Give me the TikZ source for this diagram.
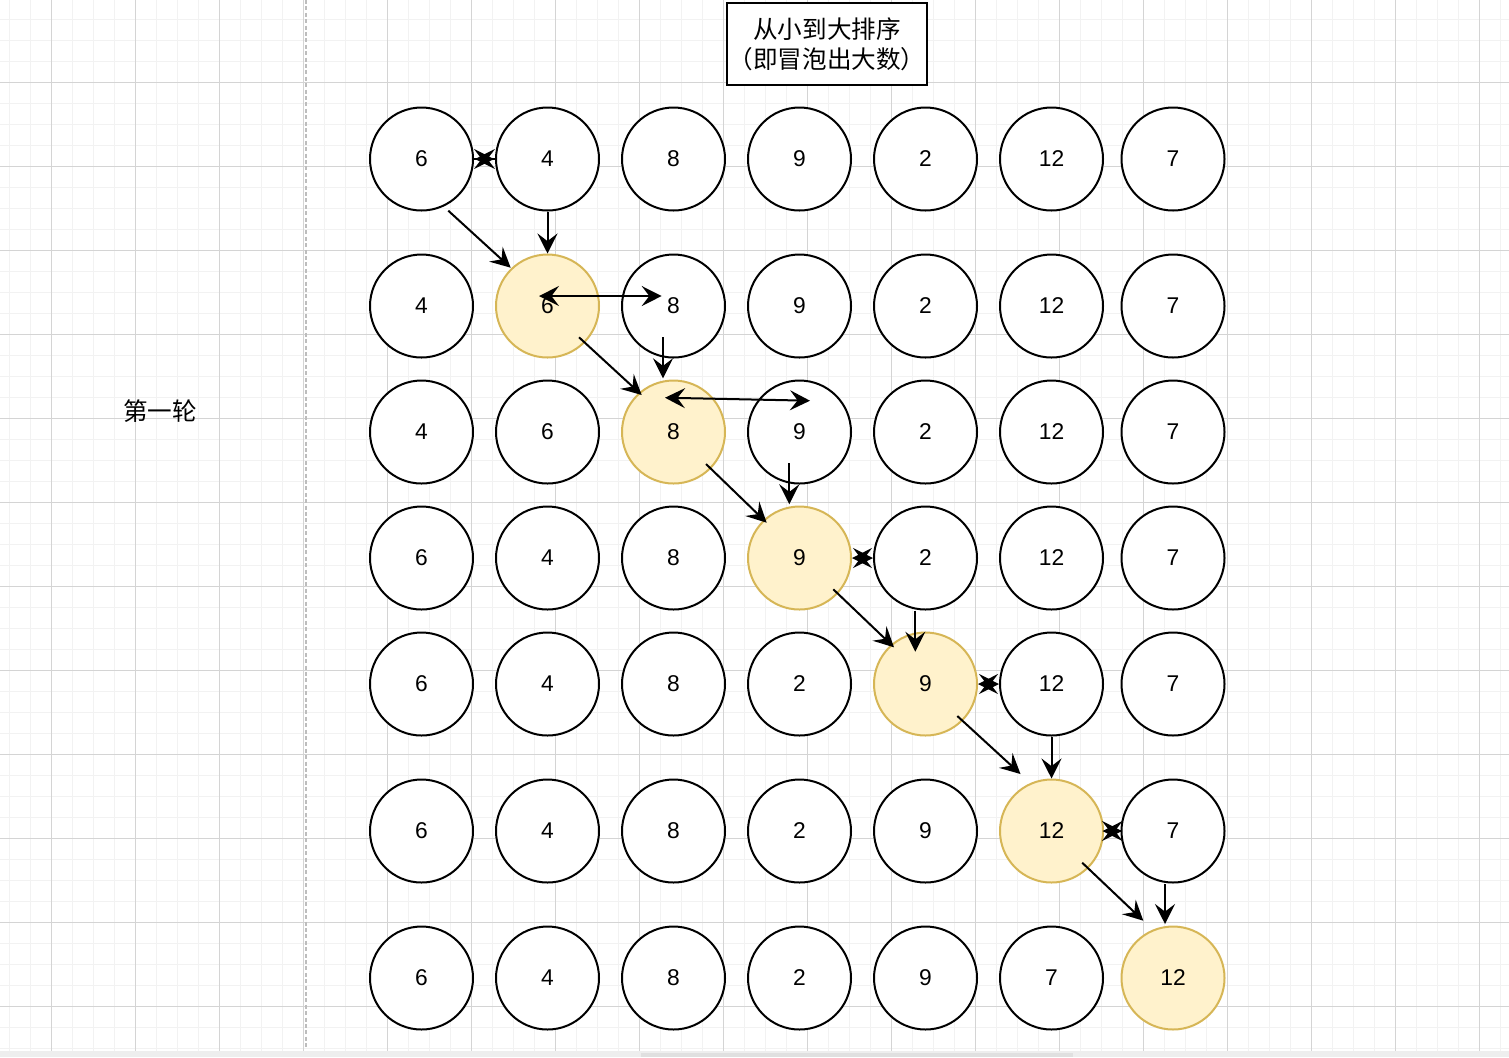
\documentclass[tikz,border=0pt]{standalone}
\usepackage{fontspec}
\setmainfont{Liberation Sans}
\newfontfamily\cjk{Noto Sans CJK SC}
\usetikzlibrary{arrows.meta}
\definecolor{hlfill}{HTML}{FFF2CC}
\definecolor{hlline}{HTML}{D6B656}
\definecolor{gridminor}{HTML}{F2F2F2}
\definecolor{gridmajor}{HTML}{D4D4D4}
\definecolor{sepline}{HTML}{BDBDBD}
\definecolor{barfill}{HTML}{EEEEEE}
\definecolor{barthumb}{HTML}{E0E0E0}

\tikzset{
  ball/.style={circle, draw, fill=white, line width=1pt, minimum size=51.5pt, inner sep=0pt,
    font=\fontsize{11.4pt}{13pt}\selectfont},
  hlball/.style={ball, draw=hlline, fill=hlfill},
  conn/.style={-{Stealth[length=10pt,width=10pt,inset=3.8pt]}, line width=1pt},
  swaparrow/.style={{Stealth[length=10pt,width=10pt,inset=3.8pt]}-{Stealth[length=10pt,width=10pt,inset=3.8pt]}, line width=1pt},
  titlebox/.style={draw, line width=1pt, fill=white, minimum width=100pt, minimum height=41pt,
    inner sep=0pt, align=center, font=\cjk\fontsize{12.3pt}{15pt}\selectfont},
  roundlabel/.style={font=\cjk\fontsize{12.3pt}{15pt}\selectfont}
}

\begin{document}
\begin{tikzpicture}[x=0.5pt, y=-0.5pt]
\useasboundingbox (0,0) rectangle (1509,1057);
\fill[white] (0,0) rectangle (1509,1057);

% background grid
\foreach \i in {0,...,71} \draw[gridminor, line width=0.5pt] (9.3+21*\i,0) -- (9.3+21*\i,1051);
\foreach \i in {0,...,49} \draw[gridminor, line width=0.5pt] (0,19.3+21*\i) -- (1509,19.3+21*\i);
\foreach \i in {0,...,17} \draw[gridmajor, line width=0.5pt] (51.3+84*\i,0) -- (51.3+84*\i,1051);
\foreach \i in {0,...,11} \draw[gridmajor, line width=0.5pt] (0,82.3+84*\i) -- (1509,82.3+84*\i);

\draw[sepline, line width=1pt, dash pattern=on 2pt off 1.2pt] (306,0) -- (306,1048);

\node[titlebox] (title) at (827,44) {从小到大排序\\（即冒泡出大数）};
\node[roundlabel] (round) at (160,411) {第一轮};

% the rows of one pass
\foreach \y/\vals [count=\row] in {159/{6,4,8,9,2,12,7}, 306/{4,6,8,9,2,12,7},
    432/{4,6,8,9,2,12,7}, 558/{6,4,8,9,2,12,7}, 684/{6,4,8,2,9,12,7},
    831/{6,4,8,2,9,12,7}, 978/{6,4,8,2,9,7,12}}
  \foreach \v [count=\col] in \vals {
    \ifnum\row=\col \ifnum\row>1 \tikzset{look/.style={hlball}}\else\tikzset{look/.style={ball}}\fi
    \else\tikzset{look/.style={ball}}\fi
    \node[look] (r\row-\col) at ({min(421.5+126*(\col-1),1173)},\y) {\v};
  }

% row 1
\draw[conn] (r1-1.east) -- ++(20,0);
\draw[conn] (r1-2.west) -- ++(-20,0);
\draw[conn] ([shift={(26.8,51.7)}]r1-1.center) -- ([shift={(-36.8,-38.3)}]r2-2.center);
\draw[conn] (r1-2) -- (r2-2);
% row 2
\draw[swaparrow] ([shift={(-8.5,-10)}]r2-2.center) -- ([shift={(-11.8,-10)}]r2-3.center);
\draw[conn] ([shift={(31.5,31.3)}]r2-2.center) -- ([shift={(-31.8,-37)}]r3-3.center);
\draw[conn] ([shift={(-10.5,31.3)}]r2-3.center) -- ([shift={(-10.5,-53.7)}]r3-3.center);
% row 3
\draw[swaparrow] ([shift={(-8.5,-34.3)}]r3-3.center) -- ([shift={(10.5,-31.3)}]r3-4.center);
\draw[conn] ([shift={(32.5,32)}]r3-3.center) -- ([shift={(-32.8,-35.3)}]r4-4.center);
\draw[conn] ([shift={(-10.2,31.3)}]r3-4.center) -- ([shift={(-10.2,-53.7)}]r4-4.center);
% row 4
\draw[swaparrow] (r4-4) -- (r4-5);
\draw[conn] ([shift={(33.8,31.3)}]r4-4.center) -- ([shift={(-31.5,-36.7)}]r5-5.center);
\draw[conn] ([shift={(-10.2,52.7)}]r4-5.center) -- ([shift={(-10.2,-32.3)}]r5-5.center);
% row 5
\draw[swaparrow] (r5-5) -- (r5-6);
\draw[conn] ([shift={(31.8,32)}]r5-5.center) -- ([shift={(-31,-57)}]r6-6.center);
\draw[conn] (r5-6) -- (r6-6);
% row 6
\draw[conn] (r6-6.east) -- ++(18,0);
\draw[conn] (r6-7.west) -- ++(-18,0);
\draw[conn] ([shift={(30.7,31.7)}]r6-6.center) -- ([shift={(-29.7,-57.3)}]r7-7.center);
\draw[conn] ([shift={(-8,53)}]r6-7.center) -- ([shift={(-8,-54)}]r7-7.center);

% scroll bar
\fill[barfill] (0,1051) rectangle (1509,1057);
\fill[barthumb] (641,1053) rectangle (1073,1057);
\end{tikzpicture}
\end{document}
